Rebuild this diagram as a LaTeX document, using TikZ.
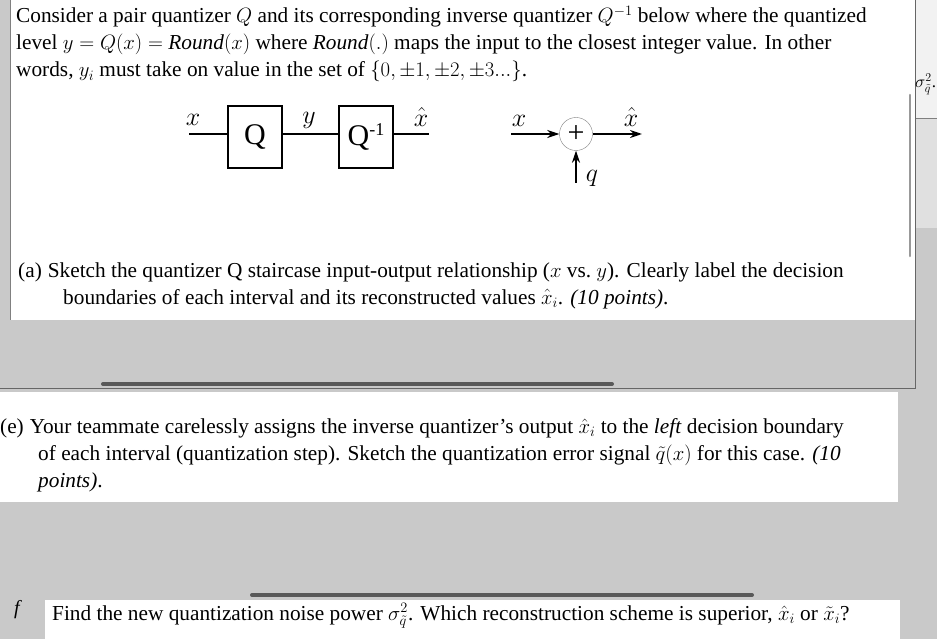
\documentclass[tikz,border=0pt]{standalone}
\usepackage{fontspec}
\setmainfont{Liberation Serif}
\usetikzlibrary{arrows.meta}
\begin{document}
\begin{tikzpicture}[x=1pt,y=-1pt,
  txt/.style={anchor=base west,inner sep=0pt,font=\fontsize{21.3}{26}\selectfont},
  blk/.style={draw,line width=1.3pt,minimum width=54pt,minimum height=62pt,font=\fontsize{30}{30}\selectfont,inner sep=0pt},
  lbl/.style={font=\fontsize{20}{20}\selectfont\itshape,inner sep=0pt,scale=1.25},
  wire/.style={line width=1.2pt},
  arr/.style={line width=2pt,-{Stealth[length=12pt,width=8pt]}}]
\useasboundingbox (0,0) rectangle (937,639);
\fill[gray!42] (0,0) rectangle (937,639);
% right strip
\fill[black!5] (915,0) rectangle (937,118);
\fill[black!12] (915,118) rectangle (937,228);
\draw[gray,line width=0.8pt] (915,118) -- (937,118);
% panel 1
\fill[white] (10,0) rectangle (915,320);
\draw[gray!80!black,line width=1pt] (915,0) -- (915,388) -- (0,388);
\draw[gray,line width=1pt] (10,0) -- (10,320);
\draw[gray!80,line width=2.5pt,line cap=round] (910,95) -- (910,256);
\draw[gray!70!black,line width=4pt,line cap=round] (103,384) -- (612,384);
\node[txt] (l1) at (16,23) {Consider a pair quantizer $Q$ and its corresponding inverse quantizer $Q^{-1}$ below where the quantized};
\node[txt] (l2) at (16,50) {level $y=Q(x)=$ \textit{Round}$(x)$ where \textit{Round}$(.)$ maps the input to the closest integer value. In other};
\node[txt] (l3) at (16,77) {words, $y_i$ must take on value in the set of $\{0,\pm1,\pm2,\pm3...\}$.};
\node[txt,font=\fontsize{17}{17}\selectfont] (sig) at (915,88) {$\sigma^2_{\tilde q}$.};
% block diagram
\node[blk] (Q) at (255,137) {Q};
\node[blk] (Qi) at (366,137) {Q\raisebox{10pt}{\fontsize{18}{18}\selectfont -1}};
\coordinate (in) at (189,134);
\coordinate (out) at (429,134);
\draw[wire] (in) -- (Q.west|-in);
\draw[wire] (Q.east|-in) -- (Qi.west|-in);
\draw[wire] (Qi.east|-in) -- (out);
\node[lbl] (lx) at (193,120) {$x$};
\node[lbl] (ly) at (309,120) {$y$};
\node[lbl] (lxh) at (421,117) {$\hat{x}$};
\node[draw,gray,circle,minimum size=33pt,inner sep=0pt,font=\fontsize{30}{30}\selectfont,text=black] (sum) at (576,134) {+};
\coordinate (in2) at (511,134);
\coordinate (out2) at (642,134);
\coordinate (qin) at (576,183);
\draw[arr] (in2) -- (sum);
\draw[arr] (sum) -- (out2);
\draw[arr] (qin) -- (sum);
\node[lbl] (lx2) at (519,121) {$x$};
\node[lbl] (lxh2) at (631,117) {$\hat{x}$};
\node[lbl] (lq) at (592,178) {$q$};
\node[txt] (a1) at (18,277) {(a)\hspace{6pt}Sketch the quantizer Q staircase input-output relationship ($x$ vs.\ $y$). Clearly label the decision};
\node[txt] (a2) at (63,304) {boundaries of each interval and its reconstructed values $\hat{x}_i$. \textit{(10 points)}.};
% panel 2
\fill[white] (0,392) rectangle (898,502);
\node[txt] (e1) at (0,433) {(e)\hspace{6pt}Your teammate carelessly assigns the inverse quantizer's output $\hat{x}_i$ to the \textit{left} decision boundary};
\node[txt] (e2) at (38,460) {of each interval (quantization step). Sketch the quantization error signal $\tilde{q}(x)$ for this case. \textit{(10}};
\node[txt] (e3) at (38,487) {\textit{points)}.};
\draw[gray!70!black,line width=4pt,line cap=round] (252,595) -- (752,595);
% panel 3
\fill[white] (45,600) rectangle (900,639);
\node[txt] (f1) at (52,620) {Find the new quantization noise power $\sigma^2_{\tilde q}$. Which reconstruction scheme is superior, $\hat{x}_i$ or $\tilde{x}_i$?};
\node[txt,font=\fontsize{20}{20}\selectfont\itshape] (fl) at (14,614) {f};
\end{tikzpicture}
\end{document}
